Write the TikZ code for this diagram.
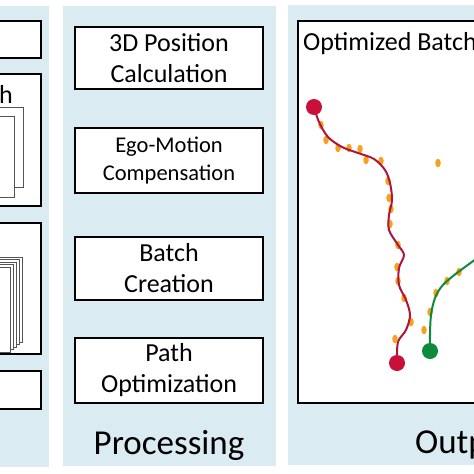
\documentclass[tikz,border=0pt]{standalone}
\usepackage{fontspec}
\setmainfont{Carlito}
\usetikzlibrary{shapes.geometric}
\definecolor{panelblue}{HTML}{DAEBF2}
\definecolor{pathred}{HTML}{B0143A}
\definecolor{dotred}{HTML}{C8103A}
\definecolor{pathgreen}{HTML}{0E8A3C}
\definecolor{measorange}{HTML}{F6A21E}
\definecolor{pagegray}{HTML}{555555}
\tikzset{
  panel/.style={fill=panelblue, draw=none},
  procbox/.style={draw=black, line width=1.8pt, fill=white, minimum width=188pt, align=center, inner sep=0pt, font=\fontsize{26}{31}\selectfont},
  inbox/.style={draw=black, line width=1.8pt, fill=white},
  pagebox/.style={draw=pagegray, line width=0.9pt, fill=white},
  meas/.style={fill=measorange, draw=none, ellipse, minimum width=5.5pt, minimum height=8.5pt, inner sep=0pt},
  enddot/.style={circle, minimum size=16pt, inner sep=0pt, draw=none},
  bigtitle/.style={font=\fontsize{35}{42}\selectfont, inner sep=0pt},
}
\begin{document}
\begin{tikzpicture}[x=1pt,y=-1pt]
\useasboundingbox (0,0) rectangle (474,474);
\begin{scope}
\clip (0,0) rectangle (474,474);
\fill[white] (0,0) rectangle (474,474);
% panels
\path[panel] (-10,6) rectangle (49,467);
\path[panel] (63,6) rectangle (276,466);
\path[panel] (288,5) rectangle (490,465);
% left panel (input, cut off)
\draw[inbox] (-20,21) rectangle (41,58);
\draw[inbox] (-20,74) rectangle (41,206);
\node[anchor=base east, inner sep=0pt, font=\fontsize{26}{31}\selectfont] (batchin) at (13,103) {Batch};
\draw[pagebox] (-40,107) rectangle (23,187);
\draw[pagebox] (-40,116) rectangle (14,197);
\draw[inbox] (-20,223) rectangle (41,354);
\foreach \i in {4,3,2,1,0}{
  \draw[pagebox] (-40,267-2.5*\i) rectangle (10+3*\i,352-2.5*\i);
}
\draw[inbox] (-20,371) rectangle (41,409);
% processing boxes
\node[procbox, minimum height=62pt] (pos) at (169,58) {3D Position\\Calculation};
\node[procbox, minimum height=65pt, font=\fontsize{22.5}{27.5}\selectfont] (ego) at (169,160.5) {Ego-Motion\\Compensation};
\node[procbox, minimum height=63pt] (batch) at (169,268.5) {Batch\\Creation};
\node[procbox, minimum height=65pt] (opt) at (169,370.5) {Path\\Optimization};
\node[bigtitle, anchor=base] (proc) at (169,454) {Processing};
% output panel
\draw[line width=2pt, fill=white] (298,21) rectangle (500,403);
\node[anchor=base west, inner sep=0pt, font=\fontsize{26}{31}\selectfont] (optb) at (303,50) {Optimized Batch};
\node[bigtitle, anchor=base west] (outp) at (415,453) {Output};
% measurements
\foreach \px/\py [count=\k] in {321/125,326/140,338/148,349/148,360/149,366/160,381/161,388/181,389/198,391/209,390/224,398/245,397/267,398/281,404/298,411/322,395/339,438/163,424/330,430/312,436/293,447/281,459/272}{
  \node[meas] (m\k) at (\px,\py) {};
}
% red path
\draw[pathred, line width=2pt, line cap=round] plot[smooth, tension=0.55] coordinates {
 (314,107) (319,122) (328,137) (342,147) (358,153) (374,159) (385,170) (390,183) (392,200)
 (389,215) (389,230) (398,245) (404,255) (399,268) (399,285) (406,300) (410,315) (406,330)
 (398,342) (397,362)};
% green path
\draw[pathgreen, line width=2pt, line cap=round] plot[smooth, tension=0.55] coordinates {
 (430,351) (430,335) (431,315) (435,298) (442,286) (453,276) (465,267) (480,256)};
\node[enddot, fill=dotred] (rstart) at (314,107) {};
\node[enddot, fill=dotred] (rend) at (397,363) {};
\node[enddot, fill=pathgreen] (gend) at (430,351) {};
\end{scope}
\end{tikzpicture}
\end{document}
